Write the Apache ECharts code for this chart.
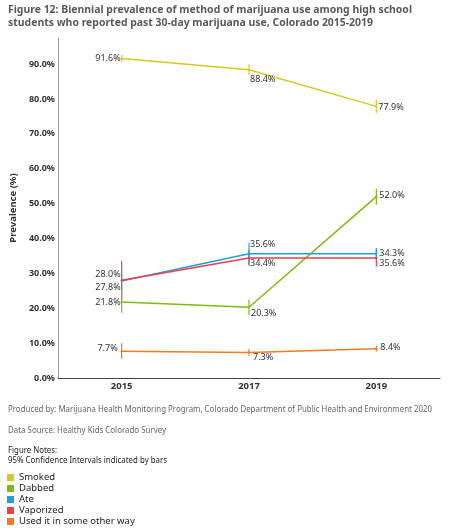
<!DOCTYPE html>
<html><head><meta charset="utf-8">
<script src="https://cdn.jsdelivr.net/npm/echarts@6/dist/echarts.min.js"></script>
<style>html,body{margin:0;padding:0;background:#fff}#c{width:452px;height:531px}</style>
</head><body><div id="c"></div>
<script>
var years = ['2015', '2017', '2019'];
var seriesNames = ['Smoked', 'Dabbed', 'Ate', 'Vaporized', 'Used it in some other way'];
var smoked = [91.6, 88.4, 77.9];
var smokedLow = [90.6, 86.8, 76.0];
var smokedHigh = [92.6, 90.0, 79.8];
var dabbed = [21.8, 20.3, 52.0];
var dabbedLow = [18.7, 18.1, 49.7];
var dabbedHigh = [25.5, 22.5, 54.3];
var ate = [27.8, 35.6, 35.6];
var ateLow = [25.0, 32.5, 33.9];
var ateHigh = [30.0, 38.7, 37.3];
var vaporized = [28.0, 34.4, 34.4];
var vaporizedLow = [22.4, 32.2, 32.0];
var vaporizedHigh = [33.6, 36.6, 36.8];
var other = [7.7, 7.3, 8.4];
var otherLow = [5.5, 6.3, 7.6];
var otherHigh = [10.0, 8.3, 9.2];
var smokedLabels = ['91.6%', '88.4%', '77.9%'];
var dabbedLabels = ['21.8%', '20.3%', '52.0%'];
var ateLabels = ['27.8%', '35.6%', '34.3%'];
var vaporizedLabels = ['28.0%', '34.4%', '35.6%'];
var otherLabels = ['7.7%', '7.3%', '8.4%'];
var yTicks = [0, 10, 20, 30, 40, 50, 60, 70, 80, 90];

var colors = ['#d7c81e', '#7dbb12', '#1e9fe0', '#ee3d4b', '#f47a22'];
var FONT = 'Noto Sans';
var values = [smoked, dabbed, ate, vaporized, other];
var lows = [smokedLow, dabbedLow, ateLow, vaporizedLow, otherLow];
var highs = [smokedHigh, dabbedHigh, ateHigh, vaporizedHigh, otherHigh];
var labels = [smokedLabels, dabbedLabels, ateLabels, vaporizedLabels, otherLabels];
// label placement: [side, dx, dy]
var place = [
  [['L', -1, 0], ['R', 1, 10], ['R', 2, 1]],
  [['L', -1, 0], ['R', 2, 6], ['R', 3, -1]],
  [['L', -1, 6], ['R', 1, -9], ['R', 3, 0]],
  [['L', -1, -6], ['R', 1, 5], ['R', 3, 5]],
  [['L', -4, -3], ['R', 4, 5], ['R', 4, -1]]
];
var barOrder = [0, 3, 2, 1, 4];

var series = [];
values.forEach(function (vals, si) {
  series.push({
    name: seriesNames[si], type: 'line', z: 3,
    symbol: 'circle', symbolSize: 2, showSymbol: true,
    lineStyle: { width: 1.5, color: colors[si] },
    itemStyle: { color: colors[si] },
    emphasis: { disabled: true },
    data: vals.map(function (v, i) {
      var p = place[si][i];
      return {
        value: v,
        label: {
          show: true, formatter: labels[si][i],
          position: [1 + p[1], 1 + p[2]],
          align: p[0] === 'L' ? 'right' : 'left', verticalAlign: 'middle',
          fontFamily: FONT, fontSize: 9, color: '#333'
        }
      };
    })
  });
});
barOrder.forEach(function (si) {
  series.push({
    type: 'custom', z: 2, silent: true,
    data: values[si].map(function (v, i) { return [i, lows[si][i], highs[si][i]]; }),
    renderItem: function (params, api) {
      var a = api.coord([api.value(0), api.value(1)]);
      var b = api.coord([api.value(0), api.value(2)]);
      return { type: 'line', shape: { x1: a[0], y1: a[1], x2: b[0], y2: b[1] },
        style: { stroke: colors[si], lineWidth: 1.2 } };
    }
  });
});

var ctx = document.createElement('canvas').getContext('2d');
function fitText(str, font, width, x, y, fill) {
  ctx.font = font;
  var w = ctx.measureText(str).width;
  return { type: 'text', x: x, y: y, scaleX: width / w,
    style: { text: str, font: font, fill: fill, textVerticalAlign: 'middle' } };
}
var titleFont = 'bold 10.5px "Noto Sans"';
ctx.font = titleFont;
var t1 = 'Figure 12: Biennial prevalence of method of marijuana use among high school';
var t2 = 'students who reported past 30-day marijuana use, Colorado 2015-2019';
var tScale = 404 / ctx.measureText(t1).width;

var chart = echarts.init(document.getElementById('c'), null, { renderer: 'canvas' });
chart.setOption({
  animation: false,
  color: colors,
  textStyle: { fontFamily: FONT },
  grid: { left: 52, right: 12, top: 38, bottom: 153 },
  xAxis: {
    type: 'category', data: years, boundaryGap: true,
    axisLine: { lineStyle: { color: '#444', width: 1 } },
    axisTick: { show: false },
    axisLabel: { fontFamily: FONT, fontSize: 9.5, fontWeight: 'bold', color: '#333', margin: 3 }
  },
  yAxis: {
    type: 'value', min: 0, max: 97.5, interval: 10,
    name: 'Prevalence (%)', nameLocation: 'middle', nameGap: 36, nameRotate: 90,
    nameTextStyle: { fontFamily: FONT, fontSize: 9.5, fontWeight: 'bold', color: '#333' },
    axisLine: { show: true, lineStyle: { color: '#999', width: 1 } },
    axisTick: { show: false },
    splitLine: { show: false },
    axisLabel: {
      fontFamily: FONT, fontSize: 9, fontWeight: 'bold', color: '#333', margin: 3,
      formatter: function (v) { return yTicks.indexOf(v) >= 0 ? v.toFixed(1) + '%' : ''; }
    }
  },
  legend: {
    data: seriesNames, orient: 'vertical', left: 7, top: 472, padding: 0,
    icon: 'rect', itemWidth: 7, itemHeight: 7, itemGap: 0,
    selectedMode: false,
    textStyle: { fontFamily: FONT, fontSize: 9.5, lineHeight: 11, color: '#222' }
  },
  graphic: [
    { type: 'text', x: 8, y: 10, scaleX: tScale, style: { text: t1, font: titleFont, fill: '#5a5a5a', textVerticalAlign: 'middle' } },
    { type: 'text', x: 8, y: 23.5, scaleX: tScale, style: { text: t2, font: titleFont, fill: '#5a5a5a', textVerticalAlign: 'middle' } },
    fitText('Produced by: Marijuana Health Monitoring Program, Colorado Department of Public Health and Environment 2020', '9px "Noto Sans"', 424, 8, 409.5, '#666'),
    fitText('Data Source: Healthy Kids Colorado Survey', '9px "Noto Sans"', 158, 8, 430.5, '#666'),
    fitText('Figure Notes:', '9.5px "Noto Sans"', 49, 8, 450.5, '#222'),
    fitText('95% Confidence Intervals indicated by bars', '9.5px "Noto Sans"', 159, 8, 460.5, '#222')
  ],
  series: series
});
</script></body></html>
